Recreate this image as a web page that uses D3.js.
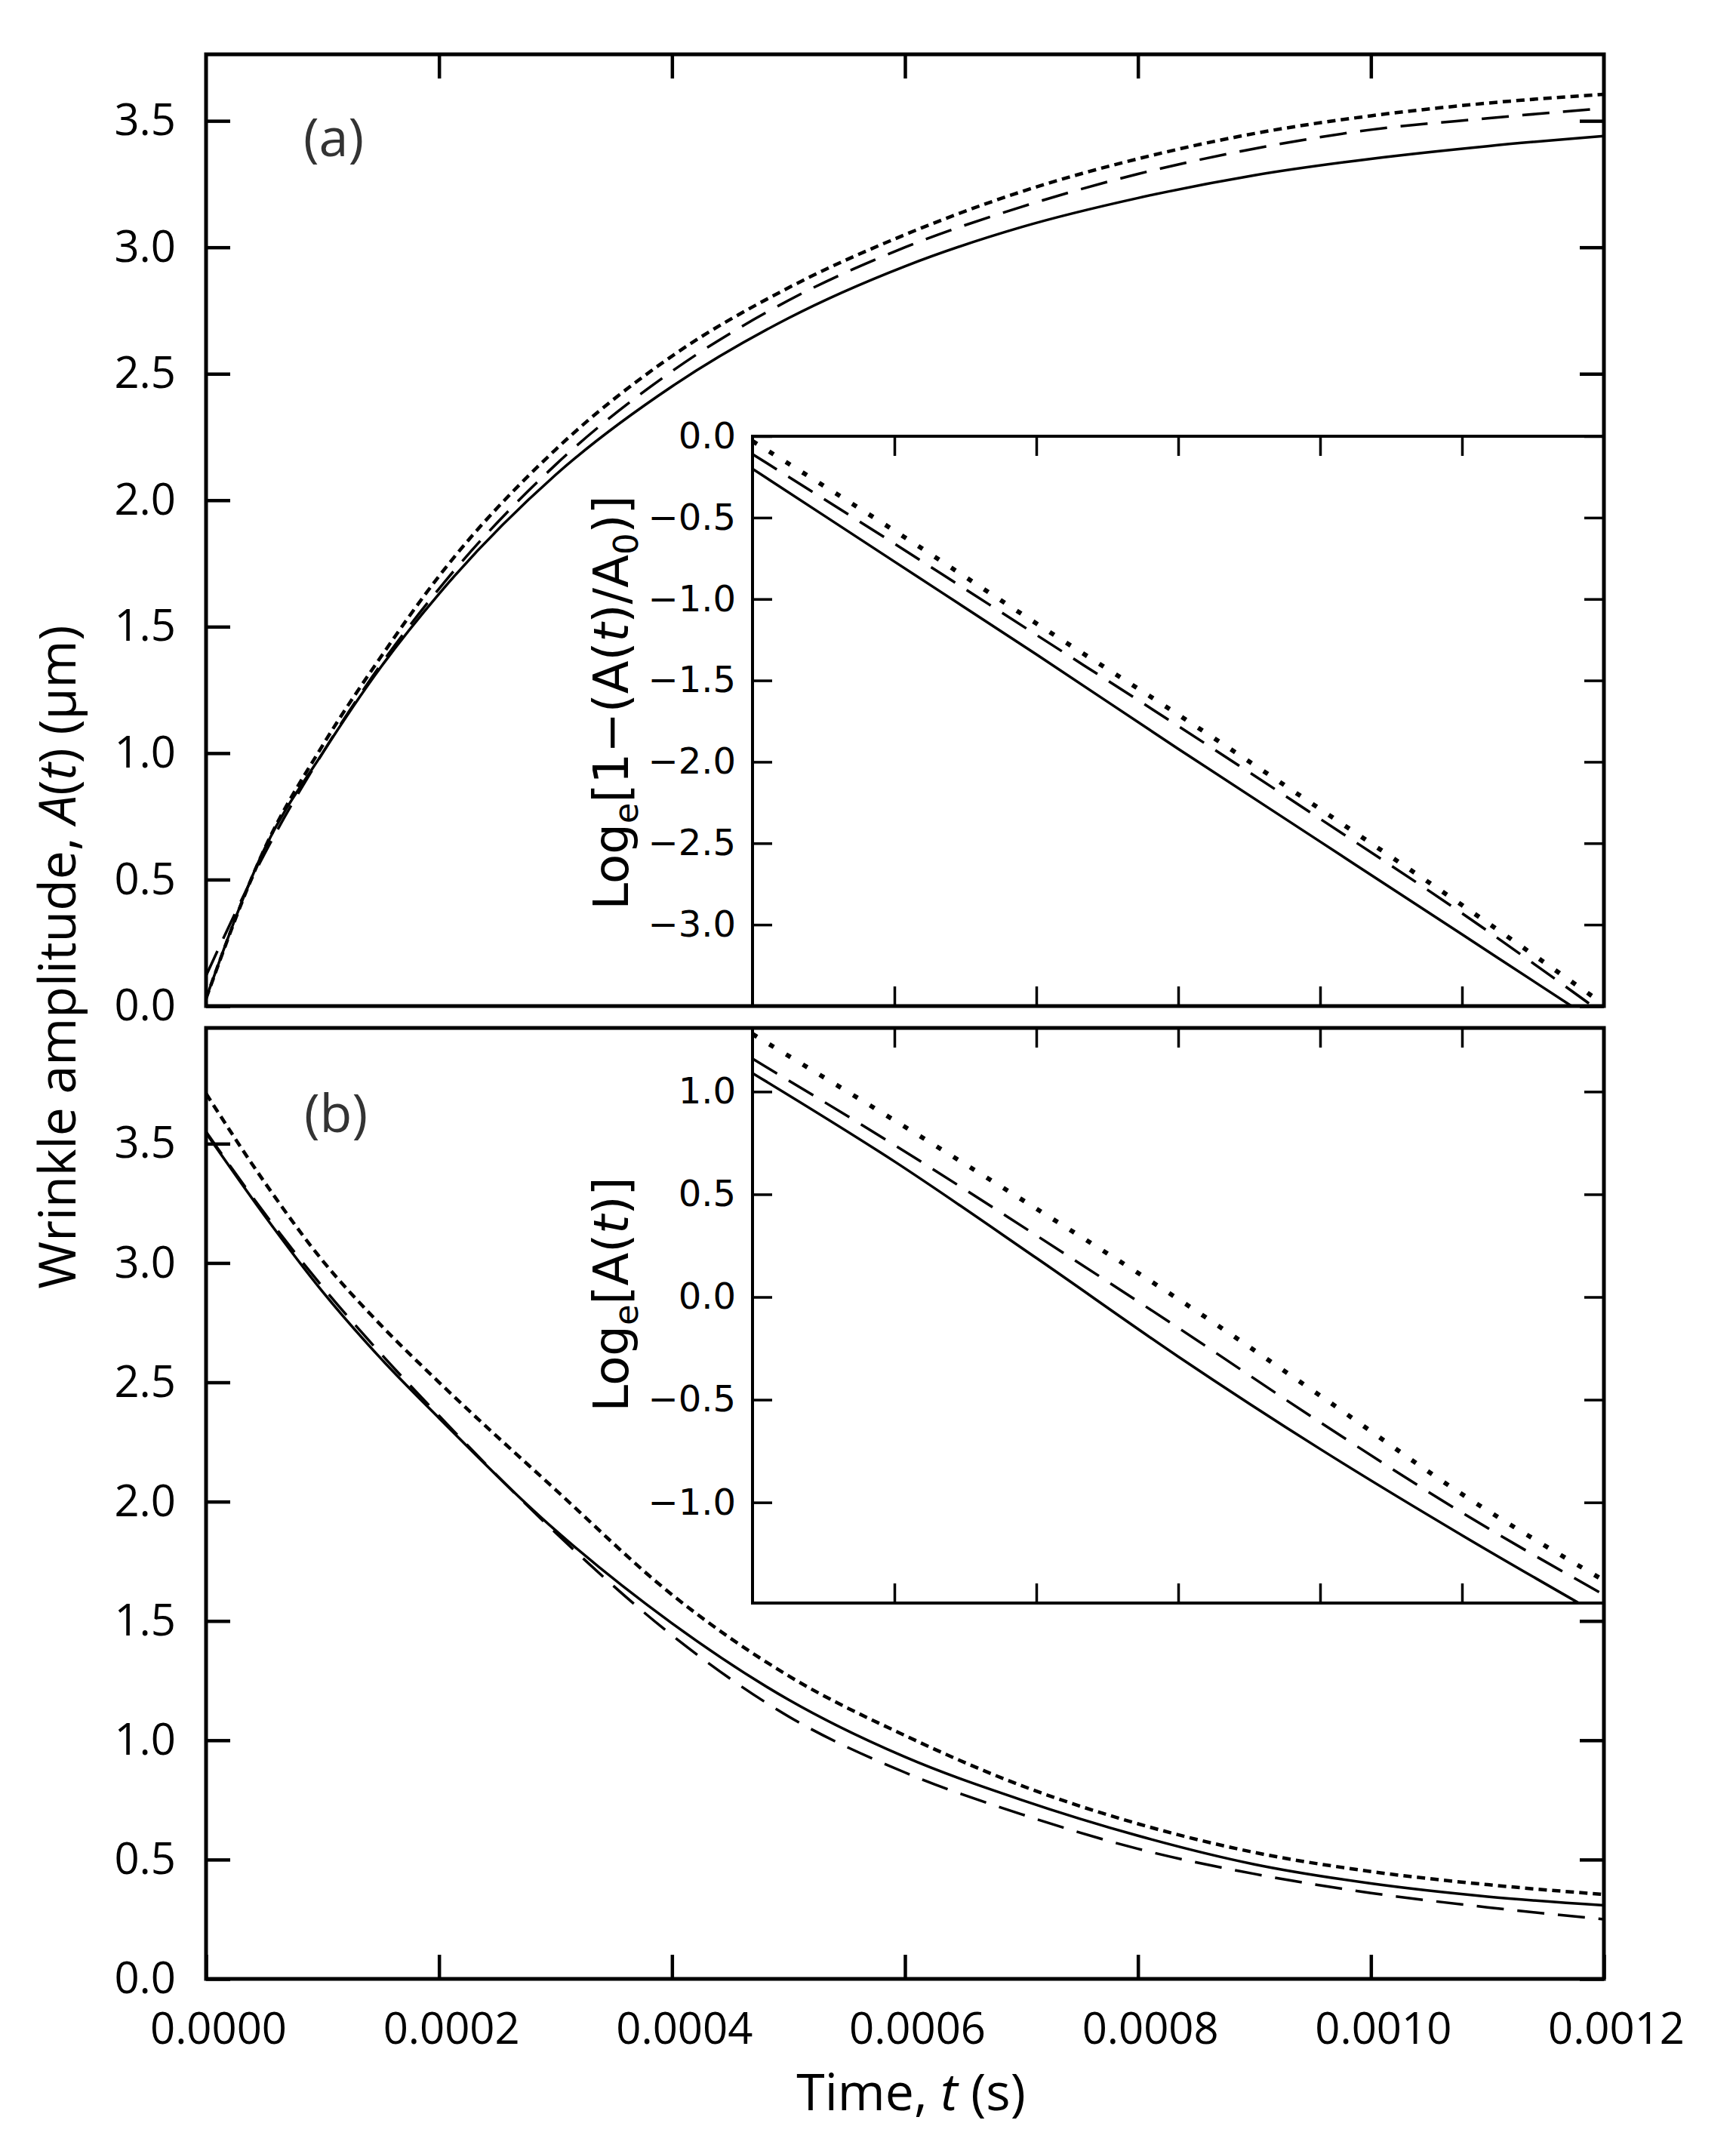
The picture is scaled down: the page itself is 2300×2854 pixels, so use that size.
<!DOCTYPE html>
<html>
<head>
<meta charset="utf-8">
<script src="https://cdn.jsdelivr.net/npm/d3@7"></script>
<style>
  body { margin: 0; background: #fff; }
</style>
</head>
<body>
<div id="chart"></div>
<script>
// data
// main panels share one time grid (s)
var timeMain = [0, 0.00005, 0.0001, 0.00015, 0.0002, 0.0003, 0.0004, 0.0005, 0.0006, 0.0007, 0.0008, 0.0009, 0.001, 0.0011, 0.0012];

// (a) growth of wrinkle amplitude (um)
var riseSolid  = [0.03, 0.62, 1.00, 1.34, 1.63, 2.10, 2.45, 2.72, 2.925, 3.08, 3.195, 3.285, 3.35, 3.40, 3.44];
var riseDashed = [0.12, 0.60, 1.00, 1.35, 1.65, 2.14, 2.51, 2.79, 3.00, 3.16, 3.29, 3.39, 3.465, 3.51, 3.55];
var riseDotted = [0.03, 0.62, 1.03, 1.38, 1.70, 2.20, 2.57, 2.84, 3.05, 3.22, 3.35, 3.45, 3.52, 3.57, 3.605];

// (b) decay of wrinkle amplitude (um)
var decaySolid  = [3.545, 3.20, 2.88, 2.60, 2.35, 1.88, 1.49, 1.17, 0.93, 0.75, 0.60, 0.48, 0.40, 0.345, 0.308];
var decayDashed = [3.55, 3.21, 2.90, 2.62, 2.36, 1.87, 1.44, 1.10, 0.865, 0.69, 0.545, 0.44, 0.36, 0.30, 0.25];
var decayDotted = [3.71, 3.34, 3.01, 2.74, 2.50, 2.05, 1.61, 1.27, 1.02, 0.81, 0.65, 0.53, 0.45, 0.395, 0.354];

// insets
var timeInset = [0, 0.0002, 0.0004, 0.0006, 0.0008, 0.001, 0.0012];
var logRiseSolid  = [-0.20, -0.77, -1.34, -1.92, -2.49, -3.06, -3.63];
var logRiseDashed = [-0.11, -0.66, -1.22, -1.78, -2.35, -2.93, -3.55];
var logRiseDotted = [-0.03, -0.58, -1.15, -1.71, -2.29, -2.88, -3.49];
var logDecaySolid  = [1.09, 0.66, 0.19, -0.29, -0.74, -1.16, -1.56];
var logDecayDashed = [1.16, 0.74, 0.30, -0.15, -0.61, -1.05, -1.45];
var logDecayDotted = [1.28, 0.86, 0.43, -0.01, -0.48, -0.96, -1.38];

// tick values
var ampTicks = [0, 0.5, 1.0, 1.5, 2.0, 2.5, 3.0, 3.5];
var timeTicks = [0, 0.0002, 0.0004, 0.0006, 0.0008, 0.001, 0.0012];
var innerTimeTicks = [0.0002, 0.0004, 0.0006, 0.0008, 0.001];
var logRiseTicks = [0, -0.5, -1.0, -1.5, -2.0, -2.5, -3.0];
var logDecayTicks = [1.0, 0.5, 0.0, -0.5, -1.0];

// layout
var svgWidth = 2300;
var svgHeight = 2854;
var left = 273, right = 2125;
var aTop = 72, aBottom = 1333;
var bTop = 1362, bBottom = 2622;
var insetLeft = 997, insetATop = 578, insetBBottom = 2124;

var mainFont = "'Open Sans', 'Liberation Sans', sans-serif";
var insetFont = "'DejaVu Sans', sans-serif";

var svg = d3.select("#chart").append("svg")
  .attr("width", svgWidth)
  .attr("height", svgHeight)
  .style("background", "#fff");

// scales
var x = d3.scaleLinear().domain([0, 0.0012]).range([left, right]);
var yA = d3.scaleLinear().domain([0, 3.763]).range([aBottom, aTop]);
var yB = d3.scaleLinear().domain([0, 3.985]).range([bBottom, bTop]);
var xIn = d3.scaleLinear().domain([0, 0.0012]).range([insetLeft, right]);
var yInA = d3.scaleLinear().domain([-3.5, 0]).range([aBottom, insetATop]);
var yInB = d3.scaleLinear().domain([-1.49, 1.31]).range([insetBBottom, bTop]);

var defs = svg.append("defs");
function clip(id, x0, y0, x1, y1) {
  defs.append("clipPath").attr("id", id)
    .append("rect").attr("x", x0).attr("y", y0).attr("width", x1 - x0).attr("height", y1 - y0);
}
clip("clipA", left, aTop, right, aBottom);
clip("clipB", left, bTop, right, bBottom);
clip("clipInA", insetLeft, insetATop, right, aBottom);
clip("clipInB", insetLeft, bTop, right, insetBBottom);

// styles for the three series
var styles = {
  solid:  { dash: null, width: 3.5 },
  dashed: { dash: "36,18", width: 3.5 },
  dotted: { dash: "11,7", width: 4.5 }
};
var insetStyles = {
  solid:  { dash: null, width: 3.5 },
  dashed: { dash: "38,18", width: 3.5 },
  dotted: { dash: "7,19", width: 6 }
};

function styleAxis(g, font, size, tickWidth) {
  g.select(".domain").remove();
  g.selectAll(".tick line").attr("stroke", "#000").attr("stroke-width", tickWidth);
  g.selectAll(".tick text").attr("fill", "#000")
    .attr("font-family", font).attr("font-size", size);
}

function drawLines(g, xs, ys, times, series, st, clipId) {
  var line = d3.line()
    .x(function(d) { return xs(d[0]); })
    .y(function(d) { return ys(d[1]); })
    .curve(d3.curveMonotoneX);
  var lg = g.append("g").attr("clip-path", "url(#" + clipId + ")");
  series.forEach(function(s) {
    lg.append("path")
      .datum(d3.zip(times, s.values))
      .attr("fill", "none")
      .attr("stroke", "#000")
      .attr("stroke-width", st[s.kind].width)
      .attr("stroke-dasharray", st[s.kind].dash)
      .attr("d", line);
  });
}

// ---------- main panel axes ----------
var fmt1 = d3.format(".1f");

// (a)
svg.append("g").attr("transform", "translate(" + left + ",0)")
  .call(d3.axisLeft(yA).tickValues(ampTicks).tickSize(-32).tickPadding(40).tickFormat(fmt1))
  .call(styleAxis, mainFont, 58, 4.5);
svg.append("g").attr("transform", "translate(" + right + ",0)")
  .call(d3.axisRight(yA).tickValues(ampTicks).tickSize(-32).tickFormat(""))
  .call(styleAxis, mainFont, 58, 4.5);
svg.append("g").attr("transform", "translate(0," + aTop + ")")
  .call(d3.axisTop(x).tickValues(innerTimeTicks).tickSize(-32).tickFormat(""))
  .call(styleAxis, mainFont, 58, 4.5);

// (b)
svg.append("g").attr("transform", "translate(" + left + ",0)")
  .call(d3.axisLeft(yB).tickValues(ampTicks).tickSize(-32).tickPadding(40).tickFormat(fmt1))
  .call(styleAxis, mainFont, 58, 4.5);
svg.append("g").attr("transform", "translate(" + right + ",0)")
  .call(d3.axisRight(yB).tickValues(ampTicks).tickSize(-32).tickFormat(""))
  .call(styleAxis, mainFont, 58, 4.5);
var xAxisG = svg.append("g").attr("transform", "translate(0," + bBottom + ")")
  .call(d3.axisBottom(x).tickValues(timeTicks).tickSize(-32).tickPadding(45).tickFormat(d3.format(".4f")))
  .call(styleAxis, mainFont, 58, 4.5);
xAxisG.selectAll(".tick text").attr("dx", 16);

// ---------- main curves ----------
drawLines(svg, x, yA, timeMain, [
  { kind: "solid", values: riseSolid },
  { kind: "dashed", values: riseDashed },
  { kind: "dotted", values: riseDotted }
], styles, "clipA");

drawLines(svg, x, yB, timeMain, [
  { kind: "solid", values: decaySolid },
  { kind: "dashed", values: decayDashed },
  { kind: "dotted", values: decayDotted }
], styles, "clipB");

// ---------- insets ----------
function drawInset(yScale, top, bottom, ticks, series, clipId) {
  var g = svg.append("g");
  g.append("rect")
    .attr("x", insetLeft).attr("y", top)
    .attr("width", right - insetLeft).attr("height", bottom - top)
    .attr("fill", "#fff");

  drawLines(g, xIn, yScale, timeInset, series, insetStyles, clipId);

  g.append("g").attr("transform", "translate(" + insetLeft + ",0)")
    .call(d3.axisLeft(yScale).tickValues(ticks).tickSize(-26).tickPadding(22).tickFormat(fmt1))
    .call(styleAxis, insetFont, 48, 3.5);
  g.append("g").attr("transform", "translate(" + right + ",0)")
    .call(d3.axisRight(yScale).tickValues(ticks).tickSize(-26).tickFormat(""))
    .call(styleAxis, insetFont, 48, 3.5);
  g.append("g").attr("transform", "translate(0," + top + ")")
    .call(d3.axisTop(xIn).tickValues(innerTimeTicks).tickSize(-26).tickFormat(""))
    .call(styleAxis, insetFont, 48, 3.5);
  g.append("g").attr("transform", "translate(0," + bottom + ")")
    .call(d3.axisBottom(xIn).tickValues(innerTimeTicks).tickSize(-26).tickFormat(""))
    .call(styleAxis, insetFont, 48, 3.5);

  g.append("rect")
    .attr("x", insetLeft).attr("y", top)
    .attr("width", right - insetLeft).attr("height", bottom - top)
    .attr("fill", "none").attr("stroke", "#000").attr("stroke-width", 4);
  return g;
}

drawInset(yInA, insetATop, aBottom, logRiseTicks, [
  { kind: "solid", values: logRiseSolid },
  { kind: "dashed", values: logRiseDashed },
  { kind: "dotted", values: logRiseDotted }
], "clipInA");

drawInset(yInB, bTop, insetBBottom, logDecayTicks, [
  { kind: "solid", values: logDecaySolid },
  { kind: "dashed", values: logDecayDashed },
  { kind: "dotted", values: logDecayDotted }
], "clipInB");

// ---------- frames ----------
[[aTop, aBottom], [bTop, bBottom]].forEach(function(p) {
  svg.append("rect")
    .attr("x", left).attr("y", p[0])
    .attr("width", right - left).attr("height", p[1] - p[0])
    .attr("fill", "none").attr("stroke", "#000").attr("stroke-width", 5);
});

// ---------- labels ----------
svg.append("text").attr("x", 442).attr("y", 207)
  .attr("text-anchor", "middle").attr("font-family", mainFont).attr("font-size", 70)
  .attr("fill", "#333").text("(a)");
svg.append("text").attr("x", 445).attr("y", 1500)
  .attr("text-anchor", "middle").attr("font-family", mainFont).attr("font-size", 70)
  .attr("fill", "#333").text("(b)");

// y title
var yt = svg.append("text")
  .attr("transform", "translate(100,1268) rotate(-90)")
  .attr("text-anchor", "middle").attr("font-family", mainFont).attr("font-size", 68);
yt.append("tspan").text("Wrinkle amplitude, ");
yt.append("tspan").attr("font-style", "italic").text("A");
yt.append("tspan").text("(");
yt.append("tspan").attr("font-style", "italic").text("t");
yt.append("tspan").text(") (μm)");

// x title
var xt = svg.append("text")
  .attr("x", 1207).attr("y", 2796)
  .attr("text-anchor", "middle").attr("font-family", mainFont).attr("font-size", 68);
xt.append("tspan").text("Time, ");
xt.append("tspan").attr("font-style", "italic").text("t");
xt.append("tspan").text(" (s)");

// inset titles
var it1 = svg.append("text")
  .attr("transform", "translate(832,931) rotate(-90)")
  .attr("text-anchor", "middle").attr("font-family", insetFont).attr("font-size", 64);
it1.append("tspan").text("Log");
it1.append("tspan").attr("font-size", 45).attr("dy", 13).text("e");
it1.append("tspan").attr("dy", -13).text("[1\u2212(A(");
it1.append("tspan").attr("font-style", "italic").text("t");
it1.append("tspan").text(")/A");
it1.append("tspan").attr("font-size", 45).attr("dy", 13).text("0");
it1.append("tspan").attr("dy", -13).text(")]");

var it2 = svg.append("text")
  .attr("transform", "translate(832,1715) rotate(-90)")
  .attr("text-anchor", "middle").attr("font-family", insetFont).attr("font-size", 64);
it2.append("tspan").text("Log");
it2.append("tspan").attr("font-size", 45).attr("dy", 13).text("e");
it2.append("tspan").attr("dy", -13).text("[A(");
it2.append("tspan").attr("font-style", "italic").text("t");
it2.append("tspan").text(")]");
</script>
</body>
</html>
